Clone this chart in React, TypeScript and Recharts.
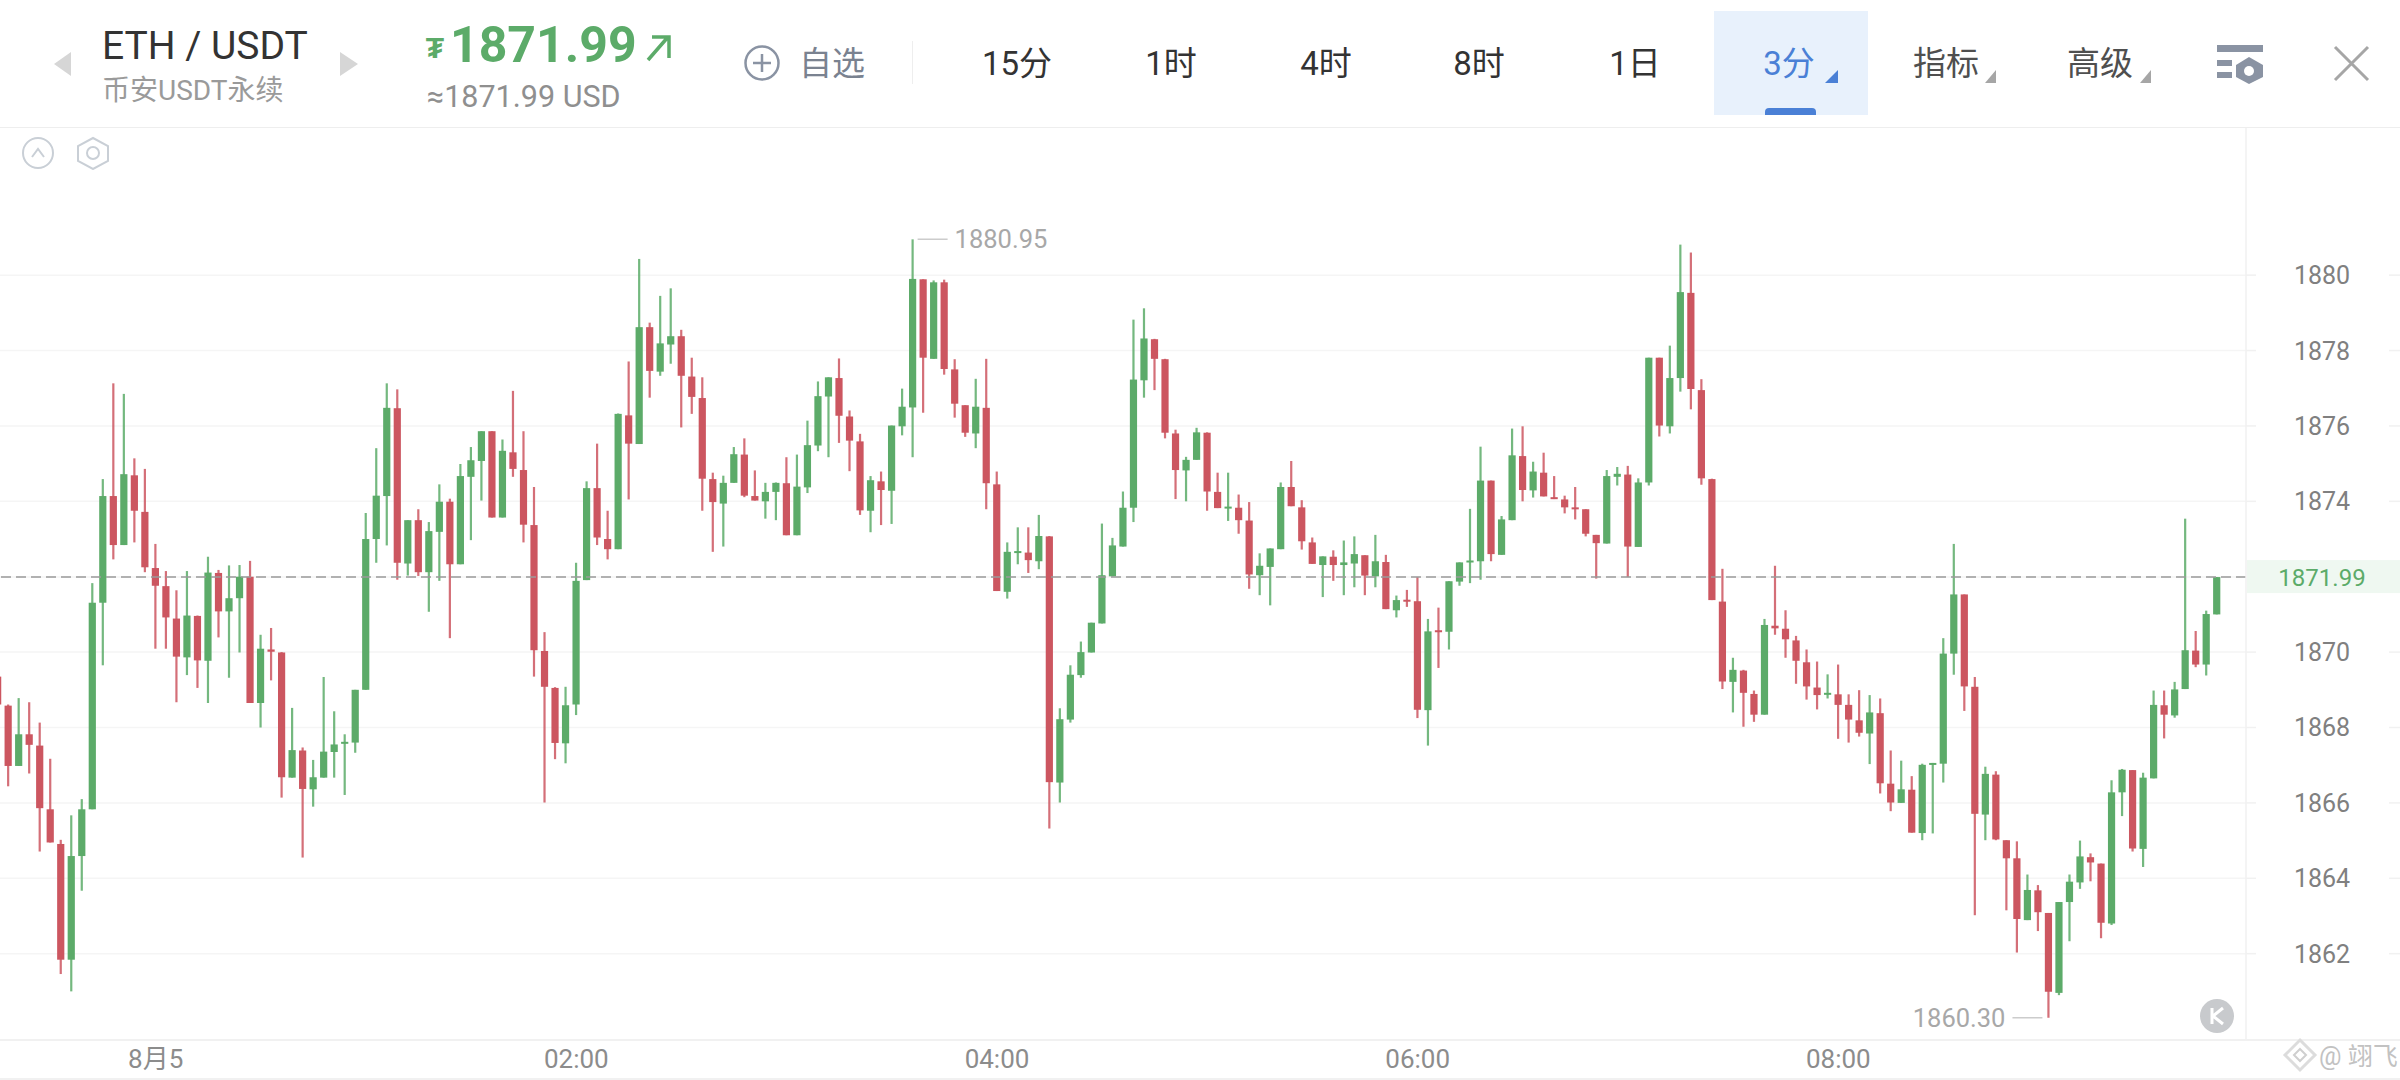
import { Bar, CartesianGrid, ComposedChart, ReferenceLine, XAxis, YAxis } from "recharts";
import type { CSSProperties, ReactNode } from "react";

const FONT = "Roboto, 'Noto Sans CJK SC', sans-serif";
const UP = "#5cab69";
const DOWN = "#cc5660";
const AXIS_TEXT = "#808080";
const LINE = "#f1f1f1";

const opens = [
  1869.35, 1868.58, 1866.98, 1867.82, 1867.52, 1865.83, 1864.91, 1861.84, 1864.59, 1865.83,
  1871.31, 1874.14, 1872.84, 1874.69, 1873.72, 1872.23, 1871.75, 1870.89, 1869.86, 1870.96,
  1869.77, 1872.10, 1871.08, 1871.43, 1872.00, 1868.65, 1870.07, 1869.99, 1866.67, 1867.39,
  1866.36, 1866.67, 1867.35, 1867.58, 1867.60, 1869.00, 1873.00, 1874.14, 1876.47, 1872.35,
  1873.50, 1872.12, 1873.19, 1873.99, 1872.33, 1874.65, 1875.07, 1875.86, 1873.57, 1875.30,
  1874.83, 1873.37, 1870.03, 1869.05, 1867.58, 1868.61, 1871.91, 1874.35, 1873.00, 1872.73,
  1876.28, 1875.52, 1878.62, 1877.44, 1878.16, 1878.38, 1877.31, 1876.74, 1874.59, 1873.94,
  1874.49, 1875.24, 1874.14, 1874.00, 1874.25, 1874.48, 1873.10, 1874.37, 1875.48, 1876.78,
  1877.27, 1876.25, 1875.59, 1873.75, 1874.53, 1874.28, 1875.99, 1876.49, 1879.89, 1877.78,
  1879.81, 1877.50, 1876.55, 1875.80, 1876.48, 1874.45, 1871.60, 1872.64, 1872.64, 1872.41,
  1873.07, 1866.54, 1868.21, 1869.39, 1869.99, 1870.76, 1872.01, 1872.80, 1873.83, 1877.21,
  1878.30, 1877.77, 1875.80, 1874.82, 1875.10, 1875.82, 1874.25, 1873.82, 1873.83, 1873.49,
  1872.04, 1872.26, 1872.73, 1874.38, 1873.84, 1872.91, 1872.31, 1872.53, 1872.31, 1872.35,
  1872.57, 1872.01, 1872.39, 1871.11, 1871.39, 1871.35, 1868.46, 1870.58, 1870.54, 1871.87,
  1872.39, 1872.41, 1874.55, 1872.58, 1873.50, 1875.20, 1874.29, 1874.76, 1874.11, 1874.05,
  1873.84, 1873.79, 1873.11, 1872.88, 1874.65, 1874.71, 1872.79, 1874.50, 1877.81, 1875.99,
  1877.27, 1879.53, 1876.95, 1874.59, 1871.34, 1869.21, 1869.51, 1868.89, 1868.34, 1870.70,
  1870.62, 1870.31, 1869.73, 1869.06, 1868.89, 1868.88, 1868.60, 1868.19, 1867.84, 1868.38,
  1866.51, 1866.00, 1866.35, 1865.20, 1867.01, 1867.04, 1869.96, 1871.53, 1869.08, 1865.69,
  1866.75, 1865.01, 1864.53, 1862.89, 1863.68, 1863.08, 1860.96, 1863.37, 1863.89, 1864.56,
  1864.39, 1862.80, 1866.28, 1866.87, 1864.78, 1866.65, 1868.59, 1868.32, 1869.02, 1870.04,
  1869.67, 1871.00,
];

const highs = [
  1869.35, 1868.61, 1868.78, 1868.67, 1868.13, 1867.17, 1865.02, 1865.67, 1866.10, 1871.83,
  1874.59, 1877.13, 1876.85, 1875.14, 1874.86, 1872.87, 1872.15, 1871.64, 1872.15, 1870.97,
  1872.53, 1872.18, 1872.30, 1872.31, 1872.42, 1870.46, 1870.64, 1870.00, 1868.52, 1867.47,
  1867.14, 1869.34, 1868.43, 1867.82, 1869.00, 1873.69, 1875.41, 1877.13, 1876.97, 1873.50,
  1873.79, 1873.45, 1874.45, 1874.07, 1874.99, 1875.44, 1875.86, 1875.86, 1875.64, 1876.93,
  1875.86, 1874.38, 1870.53, 1869.07, 1869.08, 1872.37, 1874.53, 1875.53, 1873.75, 1876.33,
  1877.71, 1880.43, 1878.74, 1879.45, 1879.65, 1878.55, 1877.81, 1877.29, 1874.76, 1874.68,
  1875.44, 1875.67, 1874.82, 1874.49, 1874.50, 1875.17, 1875.24, 1876.14, 1877.18, 1877.29,
  1877.79, 1876.41, 1875.79, 1874.67, 1874.79, 1876.01, 1876.99, 1880.95, 1879.89, 1879.86,
  1879.88, 1877.77, 1876.55, 1877.25, 1877.78, 1874.79, 1872.91, 1873.31, 1873.31, 1873.64,
  1873.08, 1868.51, 1869.65, 1870.28, 1870.78, 1873.41, 1873.03, 1874.26, 1878.82, 1879.12,
  1878.31, 1877.78, 1875.90, 1875.18, 1875.95, 1875.83, 1874.76, 1874.76, 1874.18, 1873.98,
  1872.62, 1872.75, 1874.50, 1875.07, 1874.03, 1873.04, 1872.54, 1872.70, 1872.96, 1873.07,
  1872.57, 1873.11, 1872.58, 1871.50, 1871.65, 1871.99, 1870.88, 1871.18, 1871.88, 1872.38,
  1873.80, 1875.45, 1874.55, 1873.61, 1875.93, 1875.99, 1875.05, 1875.29, 1874.67, 1874.15,
  1874.38, 1873.79, 1873.11, 1874.83, 1874.91, 1874.94, 1874.61, 1877.81, 1877.81, 1878.13,
  1880.81, 1880.60, 1877.24, 1874.60, 1872.21, 1869.85, 1869.53, 1868.98, 1870.88, 1872.29,
  1871.11, 1870.43, 1870.07, 1869.75, 1869.41, 1869.67, 1868.88, 1868.99, 1868.86, 1868.77,
  1867.39, 1867.12, 1866.71, 1867.04, 1867.06, 1870.37, 1872.87, 1871.53, 1869.34, 1866.96,
  1866.84, 1865.01, 1864.98, 1864.10, 1863.82, 1863.08, 1863.37, 1864.10, 1865.00, 1864.66,
  1864.39, 1866.60, 1866.90, 1866.87, 1866.80, 1868.98, 1868.98, 1869.21, 1873.54, 1870.56,
  1871.10, 1871.99,
];

const lows = [
  1868.61, 1866.44, 1866.98, 1866.78, 1864.71, 1864.95, 1861.46, 1861.00, 1863.67, 1865.83,
  1869.65, 1872.46, 1872.84, 1872.91, 1872.12, 1870.09, 1870.09, 1868.67, 1869.39, 1869.05,
  1868.65, 1870.39, 1869.32, 1869.99, 1868.65, 1868.00, 1869.25, 1866.14, 1866.67, 1864.55,
  1865.90, 1866.67, 1866.67, 1866.21, 1867.33, 1869.00, 1872.37, 1872.83, 1871.92, 1872.03,
  1872.02, 1871.07, 1871.89, 1870.37, 1872.33, 1872.97, 1874.02, 1873.57, 1873.57, 1874.65,
  1872.91, 1869.35, 1866.01, 1867.16, 1867.05, 1868.33, 1871.91, 1872.84, 1872.46, 1872.73,
  1874.05, 1875.52, 1876.75, 1877.33, 1877.65, 1875.96, 1876.32, 1873.75, 1872.66, 1872.80,
  1874.49, 1874.11, 1874.02, 1873.54, 1873.50, 1873.10, 1873.10, 1874.22, 1875.33, 1875.17,
  1875.55, 1874.80, 1873.64, 1873.18, 1873.37, 1873.40, 1875.75, 1875.17, 1876.35, 1877.78,
  1877.36, 1876.22, 1875.71, 1875.41, 1873.79, 1871.62, 1871.42, 1872.33, 1872.10, 1872.20,
  1865.32, 1866.01, 1868.13, 1869.32, 1869.99, 1870.76, 1872.01, 1872.80, 1873.45, 1876.75,
  1876.95, 1875.67, 1874.06, 1874.00, 1875.10, 1873.75, 1873.82, 1873.48, 1873.14, 1871.68,
  1871.51, 1871.24, 1872.73, 1873.87, 1872.72, 1872.34, 1871.46, 1871.89, 1871.51, 1871.72,
  1871.51, 1871.72, 1871.14, 1870.92, 1871.20, 1868.25, 1867.52, 1869.58, 1870.07, 1871.76,
  1871.83, 1871.92, 1872.41, 1872.58, 1873.50, 1874.00, 1874.10, 1874.13, 1874.06, 1873.68,
  1873.52, 1873.07, 1871.95, 1872.88, 1874.42, 1871.99, 1872.79, 1874.42, 1875.72, 1875.80,
  1876.91, 1876.44, 1874.44, 1871.38, 1869.02, 1868.40, 1868.02, 1868.15, 1868.34, 1870.46,
  1869.85, 1869.16, 1868.74, 1868.48, 1868.77, 1867.70, 1867.60, 1867.76, 1867.03, 1866.25,
  1865.78, 1866.00, 1865.21, 1865.01, 1865.19, 1866.54, 1869.40, 1868.44, 1863.02, 1865.01,
  1865.01, 1863.15, 1862.03, 1862.89, 1862.60, 1860.30, 1860.90, 1862.33, 1863.72, 1863.92,
  1862.41, 1862.76, 1865.65, 1864.71, 1864.30, 1866.65, 1867.71, 1868.26, 1869.02, 1869.60,
  1869.38, 1871.00,
];

const closes = [
  1868.61, 1866.98, 1867.82, 1867.54, 1865.86, 1864.95, 1861.84, 1864.59, 1865.83, 1871.31,
  1874.14, 1872.84, 1874.72, 1873.75, 1872.25, 1871.76, 1870.92, 1869.88, 1870.97, 1869.78,
  1872.11, 1871.08, 1871.43, 1872.00, 1868.65, 1870.09, 1870.01, 1866.68, 1867.40, 1866.37,
  1866.68, 1867.36, 1867.55, 1867.62, 1869.00, 1873.00, 1874.15, 1876.48, 1872.37, 1873.50,
  1872.12, 1873.21, 1873.99, 1872.33, 1874.67, 1875.09, 1875.86, 1873.57, 1875.34, 1874.86,
  1873.38, 1870.05, 1869.08, 1867.59, 1868.59, 1871.89, 1874.35, 1873.04, 1872.73, 1876.32,
  1875.53, 1878.62, 1877.46, 1878.19, 1878.38, 1877.33, 1876.77, 1874.60, 1873.98, 1874.49,
  1875.25, 1874.15, 1874.02, 1874.25, 1874.49, 1873.10, 1874.39, 1875.49, 1876.79, 1877.29,
  1876.27, 1875.61, 1873.76, 1874.56, 1874.30, 1876.01, 1876.51, 1879.90, 1877.81, 1879.81,
  1877.51, 1876.59, 1875.82, 1876.51, 1874.48, 1871.62, 1872.66, 1872.68, 1872.44, 1873.08,
  1866.55, 1868.22, 1869.40, 1870.00, 1870.78, 1872.04, 1872.83, 1873.83, 1877.23, 1878.32,
  1877.78, 1875.82, 1874.83, 1875.10, 1875.83, 1874.26, 1873.82, 1873.86, 1873.50, 1872.06,
  1872.29, 1872.75, 1874.38, 1873.87, 1872.94, 1872.34, 1872.54, 1872.31, 1872.38, 1872.60,
  1872.03, 1872.41, 1871.14, 1871.38, 1871.35, 1868.47, 1870.55, 1870.54, 1871.88, 1872.38,
  1872.43, 1874.55, 1872.60, 1873.52, 1875.22, 1874.30, 1874.79, 1874.13, 1874.06, 1873.84,
  1873.80, 1873.14, 1872.89, 1874.67, 1874.73, 1872.80, 1874.50, 1877.81, 1876.01, 1877.27,
  1879.55, 1876.98, 1874.61, 1871.38, 1869.22, 1869.53, 1868.92, 1868.34, 1870.72, 1870.63,
  1870.34, 1869.77, 1869.09, 1868.86, 1868.92, 1868.60, 1868.21, 1867.86, 1868.40, 1866.52,
  1866.01, 1866.36, 1865.21, 1867.01, 1867.06, 1869.96, 1871.53, 1869.09, 1865.71, 1866.77,
  1865.03, 1864.53, 1862.92, 1863.69, 1863.10, 1860.99, 1863.37, 1863.91, 1864.58, 1864.42,
  1862.82, 1866.28, 1866.88, 1864.79, 1866.67, 1868.60, 1868.34, 1869.01, 1870.05, 1869.67,
  1871.01, 1871.99,
];

const LAST_PRICE = 1871.99;
const MAX_PRICE = 1880.95;
const MIN_PRICE = 1860.3;

const priceTicks = [1862, 1864, 1866, 1868, 1870, LAST_PRICE, 1874, 1876, 1878, 1880];
const timeTickIndex = [15, 55, 95, 135, 175];
const timeTickLabels = ["8月5", "02:00", "04:00", "06:00", "08:00"];

const rangeLabels = ["15分", "1时", "4时", "8时", "1日", "3分"];

const candles = opens.map((open, index) => ({
  index,
  open,
  high: highs[index],
  low: lows[index],
  close: closes[index],
}));

// draws wick + body inside the [low, high] range bar recharts hands us
function Candle(props: any) {
  const { x, y, width, height, payload } = props;
  const { open, high, low, close } = payload;
  const up = close >= open;
  const color = up ? UP : DOWN;
  const perUnit = height / (high - low);
  const cx = x + width / 2;
  const bodyTop = y + (high - Math.max(open, close)) * perUnit;
  const bodyH = Math.max(Math.abs(open - close) * perUnit, 2);
  return (
    <g>
      <rect x={cx - 1.1} y={y} width={2.2} height={height} fill={color} opacity={0.85} />
      <rect x={cx - 3.6} y={bodyTop} width={7.2} height={bodyH} fill={color} />
      {high === MAX_PRICE && (
        <g>
          <line x1={cx + 5} x2={cx + 35} y1={y} y2={y} stroke="#cccccc" strokeWidth={1.5} />
          <text x={cx + 42} y={y} dy={9} fontSize={25.5} fill="#a8a8a8" fontFamily={FONT}>
            {MAX_PRICE.toFixed(2)}
          </text>
        </g>
      )}
      {low === MIN_PRICE && (
        <g>
          <line x1={cx - 36} x2={cx - 6} y1={y + height} y2={y + height} stroke="#cccccc" strokeWidth={1.5} />
          <text x={cx - 43} y={y + height} dy={9} fontSize={25.5} textAnchor="end" fill="#a8a8a8" fontFamily={FONT}>
            {MIN_PRICE.toFixed(2)}
          </text>
        </g>
      )}
    </g>
  );
}

function PriceTick(props: any) {
  const { x, y, payload } = props;
  if (payload.value === LAST_PRICE) {
    return (
      <g>
        <rect x={x + 1} y={y - 17} width={154} height={33} fill="#eff8f1" />
        <text x={x + 76} y={y} dy={9} textAnchor="middle" fontSize={24} fill={UP} fontFamily={FONT}>
          {LAST_PRICE}
        </text>
      </g>
    );
  }
  return (
    <g>
      <line x1={x} x2={x + 10} y1={y} y2={y} stroke={LINE} strokeWidth={1.5} />
      <line x1={x + 143} x2={x + 154} y1={y} y2={y} stroke={LINE} strokeWidth={1.5} />
      <text x={x + 76} y={y} dy={9} textAnchor="middle" fontSize={25} fill={AXIS_TEXT} fontFamily={FONT}>
        {payload.value}
      </text>
    </g>
  );
}

function Label(props: {
  x: number;
  y: number;
  size: number;
  color: string;
  weight?: number;
  align?: "left" | "center";
  children: ReactNode;
}) {
  const { x, y, size, color, weight, align, children } = props;
  const style: CSSProperties = {
    position: "absolute",
    left: x,
    top: y,
    transform: align === "left" ? "translateY(-50%)" : "translate(-50%, -50%)",
    fontSize: size,
    fontWeight: weight ?? 400,
    color,
    whiteSpace: "nowrap",
    lineHeight: 1,
    fontFamily: FONT,
  };
  return <div style={style}>{children}</div>;
}

function Header() {
  const tabX = [1017, 1171, 1326, 1479, 1635, 1789];
  return (
    <>
      <div style={{ position: "absolute", left: 1714, top: 11, width: 154, height: 104, background: "#e8f1fc" }} />
      <div style={{ position: "absolute", left: 1765, top: 108, width: 51, height: 7, background: "#4a80d6", borderRadius: "4px 4px 0 0" }} />
      <div style={{ position: "absolute", left: 0, top: 127, width: 2400, height: 1, background: "#eeeeee" }} />
      <div style={{ position: "absolute", left: 912, top: 41, width: 1, height: 43, background: "#eeeeee" }} />
      <div style={{ position: "absolute", left: 0, top: 1039, width: 2400, height: 2, background: LINE }} />
      <div style={{ position: "absolute", left: 0, top: 1078, width: 2400, height: 2, background: LINE }} />

      <Label x={102} y={46} size={39} color="#333333" align="left">ETH / USDT</Label>
      <Label x={102} y={91} size={28} color="#9a9a9a" align="left">币安USDT永续</Label>
      <Label x={450} y={45} size={50} weight={700} color={UP} align="left">1871.99</Label>
      <Label x={435} y={48} size={30} weight={700} color={UP}>₮</Label>
      <Label x={427} y={97} size={30.5} color="#8f8f8f" align="left">≈1871.99 USD</Label>
      <Label x={799} y={63} size={33} color="#7a8290" align="left">自选</Label>
      {rangeLabels.map((label, i) => (
        <Label key={label} x={tabX[i]} y={63} size={33} color={label === "3分" ? "#4a80d6" : "#333333"}>
          {label}
        </Label>
      ))}
      <Label x={1946} y={63} size={33} color="#4f4f4f">指标</Label>
      <Label x={2100} y={63} size={33} color="#4f4f4f">高级</Label>
      <Label x={2319} y={1056} size={25} color="#c2c2c2" align="left">@ 翊飞</Label>

      <svg width={2400} height={170} style={{ position: "absolute", left: 0, top: 0 }}>
        <polygon points="53,52 53,76 70,64" transform="rotate(180 62 64)" fill="#d6d6d6" />
        <polygon points="340,52 340,76 358,64" fill="#d6d6d6" />
        <path d="M648 60 L668 37 M652 37 L669 37 L669 58" fill="none" stroke={UP} strokeWidth={3.5} />
        <circle cx={762} cy={63} r={16.5} fill="none" stroke="#8a93a3" strokeWidth={2.5} />
        <path d="M753 63 H771 M762 54 V72" stroke="#8a93a3" strokeWidth={2.5} />
        <polygon points="1838,70 1838,83 1825,83" fill="#4a80d6" />
        <polygon points="1996,70 1996,83 1985,83" fill="#a6a6a6" />
        <polygon points="2151,70 2151,83 2140,83" fill="#a6a6a6" />
        <rect x={2217} y={45} width={46} height={7} fill="#8a93a3" />
        <rect x={2217} y={60} width={15} height={6} fill="#8a93a3" />
        <rect x={2217} y={72} width={15} height={6} fill="#8a93a3" />
        <polygon points="2249,57 2263,65 2263,77 2249,84 2236,77 2236,65" fill="#8a93a3" />
        <circle cx={2249} cy={71} r={5} fill="#ffffff" />
        <path d="M2335 47 L2368 80 M2368 47 L2335 80" stroke="#a6a6a6" strokeWidth={3} />
        <circle cx={38} cy={153} r={15} fill="none" stroke="#c9cfd6" strokeWidth={2} />
        <path d="M32 157 L38 149 L44 157" fill="none" stroke="#c9cfd6" strokeWidth={2} />
        <polygon points="93,138 108,146 108,161 93,169 78,161 78,146" fill="none" stroke="#c9cfd6" strokeWidth={2} />
        <circle cx={93} cy={153} r={6} fill="none" stroke="#c9cfd6" strokeWidth={2} />
      </svg>
      <svg width={2400} height={1080} style={{ position: "absolute", left: 0, top: 0, pointerEvents: "none" }}>
        <circle cx={2217} cy={1016} r={17} fill="#c8cacd" />
        <path d="M2212 1008 V1024 M2223 1008 L2213 1016 L2223 1024" fill="none" stroke="#ffffff" strokeWidth={3} />
        <polygon points="2300,1040 2315,1055 2300,1070 2285,1055" fill="none" stroke="#dcdcdc" strokeWidth={3} />
        <polygon points="2300,1049 2306,1055 2300,1061 2294,1055" fill="none" stroke="#cfcfcf" strokeWidth={2} />
      </svg>
    </>
  );
}

export default function App() {
  return (
    <div style={{ position: "absolute", left: 0, top: 0, width: 2400, height: 1080, background: "#ffffff", overflow: "hidden" }}>
      <div style={{ position: "absolute", left: 0, top: 127 }}>
        <ComposedChart
          width={2400}
          height={953}
          data={candles}
          margin={{ top: 0, right: 0, bottom: 0, left: 0 }}
        >
          <CartesianGrid vertical={false} stroke="#f5f5f5" strokeWidth={1.5} />
          <XAxis
            dataKey="index"
            type="number"
            domain={[0.2, 213.76]}
            allowDataOverflow
            ticks={timeTickIndex}
            tickFormatter={(v: number) => timeTickLabels[timeTickIndex.indexOf(v)]}
            interval={0}
            height={40}
            axisLine={false}
            tickLine={false}
            tickMargin={4}
            tick={{ fontSize: 26, fill: "#8c8c8c", fontFamily: FONT }}
          />
          <YAxis
            orientation="right"
            width={154}
            domain={[1859.71, 1883.93]}
            ticks={priceTicks}
            interval={0}
            axisLine={{ stroke: LINE, strokeWidth: 1.5 }}
            tickLine={false}
            tickSize={0}
            tickMargin={0}
            tick={<PriceTick />}
          />
          <Bar
            dataKey={(d: { low: number; high: number }) => [d.low, d.high]}
            barSize={8}
            shape={<Candle />}
            isAnimationActive={false}
          />
          <ReferenceLine y={LAST_PRICE} stroke="#9b9b9b" strokeWidth={1.5} strokeDasharray="10 5" />
        </ComposedChart>
      </div>
      <Header />
    </div>
  );
}
